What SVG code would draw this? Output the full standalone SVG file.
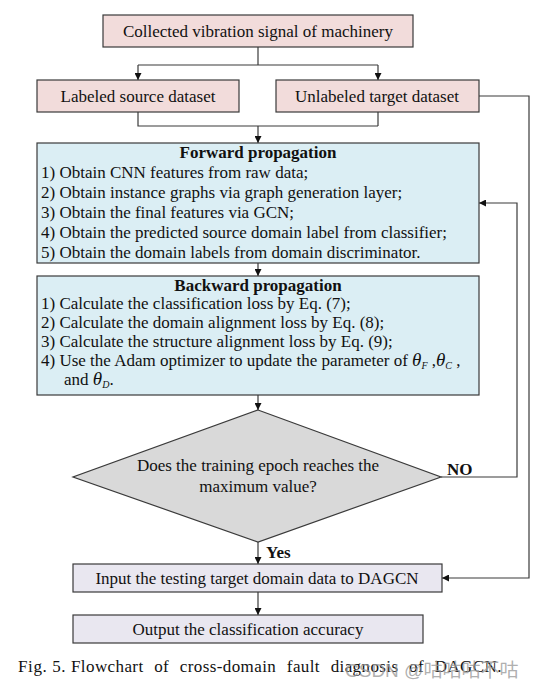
<svg xmlns="http://www.w3.org/2000/svg" width="547" height="691" viewBox="0 0 547 691">
<defs>
<style>
.t{font-family:"Liberation Serif","Times New Roman",serif;font-size:17px;fill:#111}
.c{text-anchor:middle}
.b{font-weight:bold}
.pink{fill:#f2dcdb;stroke:#3a3a3a;stroke-width:1.2}
.blue{fill:#dbeef4;stroke:#3a3a3a;stroke-width:1.2}
.grey{fill:#d9d9d9;stroke:#3a3a3a;stroke-width:1.2}
.lav{fill:#e9e7f0;stroke:#3a3a3a;stroke-width:1.2}
.ln{fill:none;stroke:#3a3a3a;stroke-width:1.2}
.it{font-style:italic}
</style>
<marker id="ah" viewBox="0 0 10 10" refX="10" refY="5" markerWidth="7" markerHeight="7" markerUnits="userSpaceOnUse" orient="auto">
<path d="M0,0 L10,5 L0,10 z" fill="#111"/>
</marker>
</defs>
<rect width="547" height="691" fill="#fff"/>
<g id="connectors">
<polyline class="ln" points="258,47 258,65"/>
<polyline class="ln" points="138,65 378,65"/>
<polyline class="ln" points="138,65 138,80" marker-end="url(#ah)"/>
<polyline class="ln" points="378,65 378,80" marker-end="url(#ah)"/>
<polyline class="ln" points="138,112 138,126 378,126"/>
<polyline class="ln" points="378,112 378,126"/>
<polyline class="ln" points="258,126 258,143" marker-end="url(#ah)"/>
<polyline class="ln" points="258,263 258,276" marker-end="url(#ah)"/>
<polyline class="ln" points="258,395 258,410" marker-end="url(#ah)"/>
<polyline class="ln" points="441,477 517,477 517,203 479,203" marker-end="url(#ah)"/>
<polyline class="ln" points="479,96 529,96 529,578 442,578" marker-end="url(#ah)"/>
<polyline class="ln" points="258,542 258,564" marker-end="url(#ah)"/>
<polyline class="ln" points="258,592 258,615" marker-end="url(#ah)"/>
</g>
<g id="collected">
<rect class="pink" x="103" y="15" width="310" height="32"/>
<text class="t c" x="258" y="37">Collected vibration signal of machinery</text>
</g>
<g id="labeled">
<rect class="pink" x="37" y="80" width="202" height="32"/>
<text class="t c" x="138" y="102">Labeled source dataset</text>
</g>
<g id="unlabeled">
<rect class="pink" x="276" y="80" width="203" height="32"/>
<text class="t c" x="377" y="102">Unlabeled target dataset</text>
</g>
<g id="forward">
<rect class="blue" x="37" y="143" width="442" height="120"/>
<text class="t c b" x="258" y="158">Forward propagation</text>
<text class="t" x="41" y="178">1) Obtain CNN features from raw data;</text>
<text class="t" x="41" y="198">2) Obtain instance graphs via graph generation layer;</text>
<text class="t" x="41" y="218">3) Obtain the final features via GCN;</text>
<text class="t" x="41" y="238">4) Obtain the predicted source domain label from classifier;</text>
<text class="t" x="41" y="258">5) Obtain the domain labels from domain discriminator.</text>
</g>
<g id="backward">
<rect class="blue" x="37" y="276" width="442" height="119"/>
<text class="t c b" x="258" y="291">Backward propagation</text>
<text class="t" x="41" y="309">1) Calculate the classification loss by Eq. (7);</text>
<text class="t" x="41" y="328">2) Calculate the domain alignment loss by Eq. (8);</text>
<text class="t" x="41" y="347">3) Calculate the structure alignment loss by Eq. (9);</text>
<text class="t" x="41" y="366">4) Use the Adam optimizer to update the parameter of <tspan class="it" font-size="19">θ</tspan><tspan class="it" font-size="10" dy="3">F</tspan><tspan dy="-3"> ,</tspan><tspan class="it" font-size="19">θ</tspan><tspan class="it" font-size="10" dy="3">C</tspan><tspan dy="-3"> ,</tspan></text>
<text class="t" x="64" y="385">and <tspan class="it" font-size="19">θ</tspan><tspan class="it" font-size="10" dy="3">D</tspan><tspan dy="-3">.</tspan></text>
</g>
<g id="decision">
<polygon class="grey" points="258,410 441,477 258,542 73,477"/>
<text class="t c" x="258" y="471">Does the training epoch reaches the</text>
<text class="t c" x="258" y="492">maximum value?</text>
</g>
<text class="t b" x="447" y="475">NO</text>
<text class="t b" x="266" y="558">Yes</text>
<g id="input">
<rect class="lav" x="73" y="564" width="369" height="28"/>
<text class="t c" x="257" y="584">Input the testing target domain data to DAGCN</text>
</g>
<g id="output">
<rect class="lav" x="73" y="615" width="350" height="28"/>
<text class="t c" x="248" y="635">Output the classification accuracy</text>
</g>
<text class="t" x="18" y="672" font-size="17.5" letter-spacing="0.6">Fig. 5.</text>
<text class="t" x="71" y="672" font-size="17.5" letter-spacing="0.4" word-spacing="6">Flowchart of cross-domain fault diagnosis of DAGCN.</text>
<text x="345" y="677" font-family="'Liberation Sans','Noto Sans CJK SC',sans-serif" font-size="19" fill="#9a9a9a" fill-opacity="0.8">CSDN @咕咕咕不咕</text>
</svg>
